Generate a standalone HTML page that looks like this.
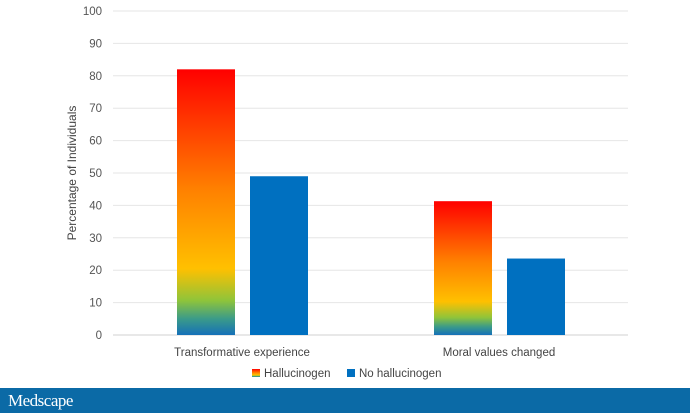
<!DOCTYPE html>
<html><head><meta charset="utf-8"><style>
body{margin:0;width:690px;height:413px;overflow:hidden;background:#fff;font-family:"Liberation Sans",sans-serif}
svg{display:block}
</style></head><body>
<svg width="690" height="413">
<defs>
<linearGradient id="hg" x1="0" y1="1" x2="0" y2="0">
<stop offset="0" stop-color="#1570b8"/>
<stop offset="0.06" stop-color="#3a9a8a"/>
<stop offset="0.13" stop-color="#8fc43a"/>
<stop offset="0.25" stop-color="#ffc000"/>
<stop offset="0.55" stop-color="#ff8000"/>
<stop offset="1" stop-color="#ff0000"/>
</linearGradient>
</defs>
<g id="grid"></g><g id="bars"></g>
<text x="76" y="173" transform="rotate(-90 76 173)" text-anchor="middle" font-size="12" fill="#444">Percentage of Individuals</text>
<g>
<rect x="252" y="369" width="8" height="8" fill="url(#hg)"/>
<text x="264" y="377" font-size="11.5" fill="#444">Hallucinogen</text>
<rect x="347" y="369" width="8" height="8" fill="#0070c0"/>
<text x="359" y="377" font-size="11.5" fill="#444">No hallucinogen</text>
</g>
<rect x="0" y="388" width="690" height="25" fill="#0b6aa6"/>
<text x="8" y="406" font-family="Liberation Serif,serif" font-size="17" fill="#fff" letter-spacing="-0.5">Medscape</text>
</svg>
<script>
const categories=["Transformative experience","Moral values changed"];
const hallucinogen=[82,41.3];
const noHallucinogen=[49,23.6];
const ticks=[0,10,20,30,40,50,60,70,80,90,100];
const NS="http://www.w3.org/2000/svg";
const y=v=>335-v*3.24;
const groupX=i=>170+i*257;
function mk(t,a,p){const e=document.createElementNS(NS,t);for(const k in a)e.setAttribute(k,a[k]);p.appendChild(e);return e;}
const grid=document.getElementById('grid'),bars=document.getElementById('bars');
ticks.forEach(t=>{
 const l=mk('line',{x1:113,x2:628,y1:y(t),y2:y(t),stroke:t===0?'#d0d0d0':'#e6e6e6','stroke-width':1},grid);
 
 
 const tx=mk('text',{x:102,y:y(t)+4,'text-anchor':'end','font-size':11.5,fill:'#555'},grid);
 tx.textContent=t;
 
 
});
categories.forEach((c,i)=>{
 const gx=groupX(i);
 const b1=mk('rect',{x:gx+7,y:y(hallucinogen[i]),width:58,height:y(0)-y(hallucinogen[i]),fill:'url(#hg)'},bars);
 
 
 const b2=mk('rect',{x:gx+80,y:y(noHallucinogen[i]),width:58,height:y(0)-y(noHallucinogen[i]),fill:'#0070c0'},bars);
 
 
 const t=mk('text',{x:gx+72,y:356,'text-anchor':'middle','font-size':11.5,fill:'#444'},bars);
 t.textContent=c;
 
 
});
</script>
</body></html>
